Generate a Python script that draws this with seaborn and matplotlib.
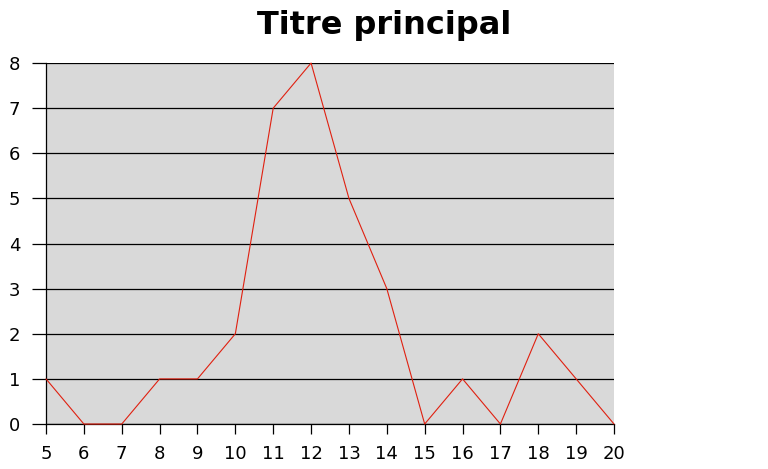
import pandas as pd
import matplotlib
matplotlib.use('Agg')
import matplotlib.pyplot as plt
import seaborn as sns

# valeurs
x_vals = [5, 6, 7, 8, 9, 10, 11, 12, 13, 14, 15, 16, 17, 18, 19, 20]
y_vals = [1, 0, 0, 1, 1, 2, 7, 8, 5, 3, 0, 1, 0, 2, 1, 0]
y_ticks = [0, 1, 2, 3, 4, 5, 6, 7, 8]
titre = 'Titre principal'

df = pd.DataFrame({'x': x_vals, 'y': y_vals})

sns.set_style('white')
plt.rcParams['font.family'] = ['DejaVu Sans']
plt.rcParams['text.color'] = 'black'
plt.rcParams['xtick.color'] = 'black'
plt.rcParams['ytick.color'] = 'black'

fig = plt.figure(figsize=(7.68, 4.69), dpi=100)
ax = fig.add_axes([0.0599, 0.0959, 0.7396, 0.7697])
ax.set_facecolor('#d9d9d9')

sns.lineplot(data=df, x='x', y='y', color='#e02010', linewidth=0.8, ax=ax,
             zorder=3, clip_on=False)

ax.set_xlim(5, 20)
ax.set_ylim(0, 8)
ax.set_xticks(x_vals)
ax.set_yticks(y_ticks)
ax.yaxis.grid(True, color='black', linewidth=0.9)
ax.set_axisbelow(True)
ax.set_xlabel('')
ax.set_ylabel('')

for s in ['top', 'right']:
    ax.spines[s].set_visible(False)
for s in ['left', 'bottom']:
    ax.spines[s].set_color('black')
    ax.spines[s].set_linewidth(0.9)

ax.tick_params(axis='y', length=10, width=0.9, pad=8.5, labelsize=13, left=True)
ax.tick_params(axis='x', length=7, width=0.9, pad=8, labelsize=13, bottom=True)

fig.text(0.5, 0.946, titre, ha='center', va='center', fontsize=23, fontweight='bold')

fig.savefig('out.png', dpi=100)
